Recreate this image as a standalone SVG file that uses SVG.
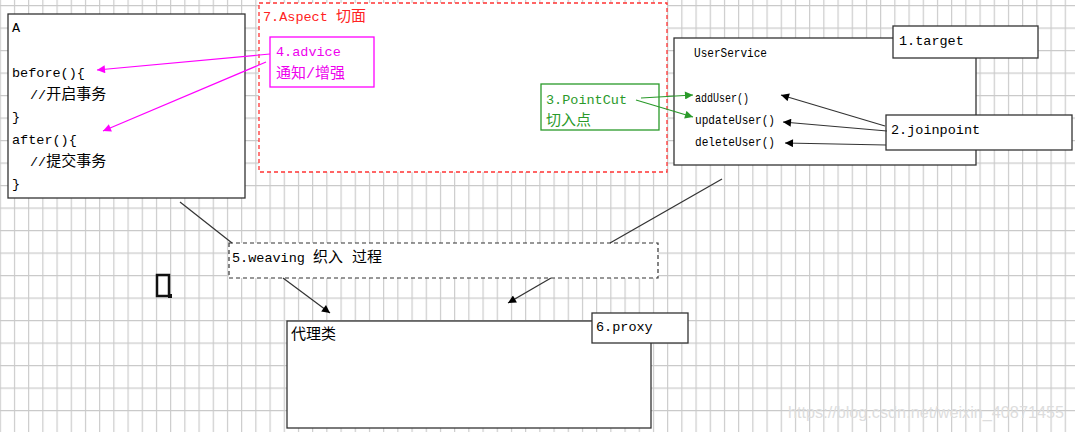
<svg xmlns="http://www.w3.org/2000/svg" width="1075" height="432" viewBox="0 0 1075 432">
<style>
.t{font-family:"Liberation Mono","Noto Sans CJK SC",monospace;font-size:13.5px;fill:#000}
.c{font-size:15px}
.box{fill:#fff;stroke:#333;stroke-width:1.3}
.ln{stroke:#333;stroke-width:1.2;fill:none}
</style>
<defs>
<pattern id="g" x="-0.3" y="5" width="14.2" height="22.5" patternUnits="userSpaceOnUse">
<path d="M0.5 0V22.5M0 0.5H14.2" stroke="#cacaca" stroke-width="1.3" fill="none"/>
</pattern>
<marker id="ab" viewBox="0 0 10 10" refX="10" refY="5" markerWidth="10" markerHeight="8" markerUnits="userSpaceOnUse" orient="auto"><path d="M0 0L10 5L0 10z" fill="#000"/></marker>
<marker id="am" viewBox="0 0 10 10" refX="10" refY="5" markerWidth="10" markerHeight="8" markerUnits="userSpaceOnUse" orient="auto"><path d="M0 0L10 5L0 10z" fill="#f0f"/></marker>
<marker id="ag" viewBox="0 0 10 10" refX="10" refY="5" markerWidth="10" markerHeight="8" markerUnits="userSpaceOnUse" orient="auto"><path d="M0 0L10 5L0 10z" fill="#2a9a2a"/></marker>
</defs>
<rect width="1075" height="432" fill="#fff"/>
<rect width="1075" height="432" fill="url(#g)"/>
<g id="aspect">
<rect x="259" y="3" width="408" height="169" fill="#fff" stroke="#f33" stroke-width="1.3" stroke-dasharray="4 3"/>
<text class="t" x="263" y="21" style="fill:#f22">7.Aspect <tspan class="c">切面</tspan></text>
</g>
<g id="A">
<rect class="box" x="8" y="14" width="237" height="184"/>
<text class="t" x="12" y="32">A</text>
<text class="t" x="12" y="77">before(){</text>
<text class="t" x="30" y="99">//<tspan class="c">开启事务</tspan></text>
<text class="t" x="12" y="121">}</text>
<text class="t" x="12" y="144">after(){</text>
<text class="t" x="30" y="166">//<tspan class="c">提交事务</tspan></text>
<text class="t" x="12" y="188">}</text>
</g>
<g id="advice">
<rect x="270" y="37" width="104" height="50" fill="#fff" stroke="#f0f" stroke-width="1.3"/>
<text class="t" x="276" y="56" style="fill:#e0e">4.advice</text>
<text class="t c" x="276" y="78" style="fill:#e0e">通知/增强</text>
</g>
<g id="pointcut">
<rect x="541" y="84" width="118" height="46" fill="#fff" stroke="#2a9a2a" stroke-width="1.3"/>
<text class="t" x="546" y="104" style="fill:#2a9a2a">3.PointCut</text>
<text class="t c" x="546" y="125" style="fill:#2a9a2a">切入点</text>
</g>
<g id="userservice">
<rect class="box" x="674" y="38" width="302" height="127"/>
<text class="t" x="694" y="57" textLength="73" lengthAdjust="spacingAndGlyphs">UserService</text>
<text class="t" x="695" y="102" textLength="54" lengthAdjust="spacingAndGlyphs">addUser()</text>
<text class="t" x="695" y="124" textLength="80" lengthAdjust="spacingAndGlyphs">updateUser()</text>
<text class="t" x="695" y="146" textLength="80" lengthAdjust="spacingAndGlyphs">deleteUser()</text>
</g>
<g id="target">
<rect class="box" x="893" y="26" width="145" height="32"/>
<text class="t" x="899" y="45">1.target</text>
</g>
<g id="joinpoint">
<rect class="box" x="886" y="115" width="186" height="35"/>
<text class="t" x="891" y="134">2.joinpoint</text>
</g>
<g id="weaving">
<rect x="229" y="243" width="429" height="35" fill="#fff" stroke="#333" stroke-width="1.2" stroke-dasharray="4 3"/>
<text class="t" x="232" y="262">5.weaving <tspan class="c">织入 过程</tspan></text>
</g>
<g id="proxy">
<rect class="box" x="287" y="321" width="364" height="107"/>
<text class="t c" x="291" y="339">代理类</text>
</g>
<g id="proxylabel">
<rect class="box" x="592" y="313" width="96" height="30"/>
<text class="t" x="596" y="331">6.proxy</text>
</g>
<g id="icon">
<rect x="157" y="275" width="12" height="21" fill="none" stroke="#111" stroke-width="2.5"/>
<rect x="168" y="294" width="4" height="4" fill="#111"/>
</g>
<g id="connectors">
<line x1="270" y1="54" x2="97" y2="70" stroke="#f0f" stroke-width="1.2" marker-end="url(#am)"/>
<line x1="266" y1="62" x2="103" y2="131" stroke="#f0f" stroke-width="1.2" marker-end="url(#am)"/>
<line x1="641" y1="98" x2="693" y2="95" stroke="#2a9a2a" stroke-width="1.2" marker-end="url(#ag)"/>
<line x1="636" y1="100" x2="693" y2="117" stroke="#2a9a2a" stroke-width="1.2" marker-end="url(#ag)"/>
<line class="ln" x1="885" y1="126" x2="781" y2="95" marker-end="url(#ab)"/>
<line class="ln" x1="887" y1="131" x2="783" y2="122" marker-end="url(#ab)"/>
<line class="ln" x1="886" y1="145" x2="785" y2="143" marker-end="url(#ab)"/>
<line class="ln" x1="180" y1="202" x2="232" y2="243"/>
<line class="ln" x1="722" y1="179" x2="610" y2="243"/>
<line class="ln" x1="283" y1="278" x2="330" y2="313" marker-end="url(#ab)"/>
<line class="ln" x1="551" y1="278" x2="508" y2="303" marker-end="url(#ab)"/>
</g>
<text x="788" y="418" font-family="Liberation Sans,sans-serif" font-size="16" fill="#ddd" textLength="276" lengthAdjust="spacingAndGlyphs">https://blog.csdn.net/weixin_40871455</text>
</svg>
